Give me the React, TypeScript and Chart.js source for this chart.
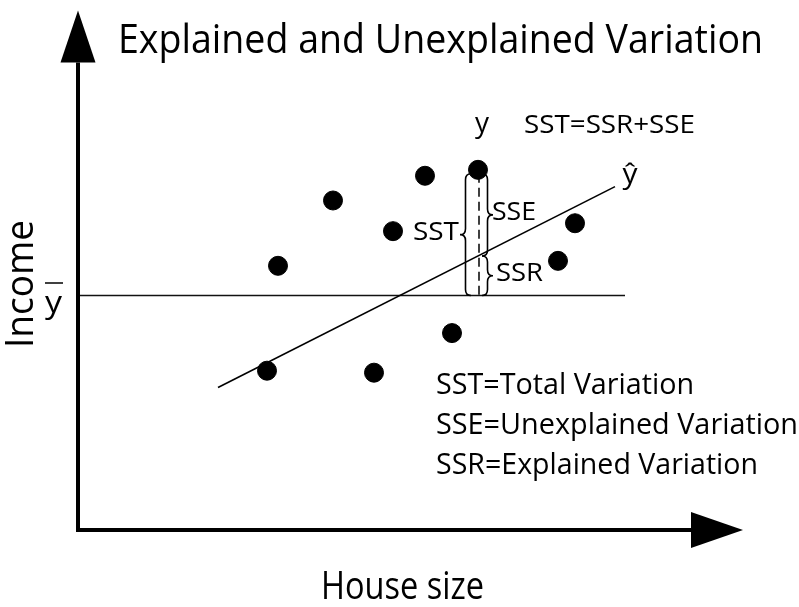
import React, { useEffect, useRef } from "react";
import { Chart, registerables } from "chart.js";

Chart.register(...registerables);

// Data (axis units: house size / income, arbitrary)
const houseSize = [3.78, 4.0, 5.1, 5.92, 6.3, 6.94, 7.48, 8.0, 9.6, 9.94];
const income = [3.22, 5.34, 6.66, 3.18, 6.04, 7.16, 3.98, 7.28, 5.44, 6.2];
const regX = [2.8, 10.74];
const regY = [2.88, 6.94];
const meanY = 4.74;
const meanXEnd = 10.94;
const focusIndex = 7; // the highlighted point y
const X_MAX = 13.3;
const Y_MAX = 10.5;

const titleText = "Explained and Unexplained Variation";
const xTitle = "House size";
const yTitle = "Income";
const legendLines = ["SST=Total Variation", "SSE=Unexplained Variation", "SSR=Explained Variation"];
const formula = "SST=SSR+SSE";

const FONT = "'Open Sans', 'Noto Sans', sans-serif";

function fitText(ctx: CanvasRenderingContext2D, text: string, x: number, y: number, size: number, width: number, align: "left" | "center" = "left") {
  ctx.save();
  ctx.font = `${size}px ${FONT}`;
  ctx.textBaseline = "alphabetic";
  ctx.textAlign = "left";
  const w = ctx.measureText(text).width;
  const s = width / w;
  ctx.translate(align === "center" ? x - width / 2 : x, y);
  ctx.scale(s, 1);
  ctx.fillStyle = "#000";
  ctx.fillText(text, 0, 0);
  ctx.restore();
}

function brace(ctx: CanvasRenderingContext2D, xArm: number, y1: number, y2: number, dir: number, w: number) {
  const ym = (y1 + y2) / 2;
  const xMid = xArm + dir * w * 0.5;
  const xTip = xArm + dir * w;
  const r = Math.min(6, (y2 - y1) / 4);
  ctx.beginPath();
  ctx.moveTo(xArm, y1);
  ctx.quadraticCurveTo(xMid, y1, xMid, y1 + r);
  ctx.lineTo(xMid, ym - r);
  ctx.quadraticCurveTo(xMid, ym, xTip, ym);
  ctx.quadraticCurveTo(xMid, ym, xMid, ym + r);
  ctx.lineTo(xMid, y2 - r);
  ctx.quadraticCurveTo(xMid, y2, xArm, y2);
  ctx.stroke();
}

const decorPlugin = {
  id: "decor",
  afterDraw(chart: any) {
    const ctx: CanvasRenderingContext2D = chart.ctx;
    const xs = chart.scales.x;
    const ys = chart.scales.y;
    const px = (v: number) => xs.getPixelForValue(v);
    const py = (v: number) => ys.getPixelForValue(v);

    // axes with arrows
    const ox = px(0), oy = py(0);
    ctx.save();
    ctx.fillStyle = "#000";
    ctx.strokeStyle = "#000";
    ctx.lineWidth = 4;
    ctx.beginPath();
    ctx.moveTo(ox, py(Y_MAX) + 52);
    ctx.lineTo(ox, oy);
    ctx.lineTo(px(X_MAX) - 52, oy);
    ctx.stroke();
    ctx.beginPath();
    ctx.moveTo(ox, py(Y_MAX));
    ctx.lineTo(ox - 17.5, py(Y_MAX) + 52);
    ctx.lineTo(ox + 17.5, py(Y_MAX) + 52);
    ctx.closePath();
    ctx.fill();
    ctx.beginPath();
    ctx.moveTo(px(X_MAX), oy);
    ctx.lineTo(px(X_MAX) - 52, oy - 18);
    ctx.lineTo(px(X_MAX) - 52, oy + 18);
    ctx.closePath();
    ctx.fill();

    // dashed vertical + braces at the focus point
    const fx = px(houseSize[focusIndex]);
    const fyTop = py(income[focusIndex]) + 4;
    const fyMean = py(meanY);
    const slope = (regY[1] - regY[0]) / (regX[1] - regX[0]);
    const fyReg = py(regY[0] + slope * (houseSize[focusIndex] - regX[0]));
    ctx.lineWidth = 1.5;
    ctx.setLineDash([9, 5]);
    ctx.beginPath();
    ctx.moveTo(fx + 1, fyTop);
    ctx.lineTo(fx + 1, fyMean);
    ctx.stroke();
    ctx.setLineDash([]);
    ctx.lineWidth = 1.6;
    brace(ctx, fx - 7, fyTop, fyMean, -1, 11);
    brace(ctx, fx + 4, fyTop, fyReg, 1, 11);
    brace(ctx, fx + 4, fyReg, fyMean, 1, 11);

    // overline for y-bar
    ctx.lineWidth = 1.5;
    ctx.beginPath();
    ctx.moveTo(45, 283);
    ctx.lineTo(63, 283);
    ctx.stroke();
    ctx.restore();

    // texts
    fitText(ctx, titleText, 118, 53, 40, 645);
    fitText(ctx, xTitle, 321, 599, 38, 163);
    fitText(ctx, "y", 45, 313, 31, 17);
    ctx.save();
    ctx.translate(33, 284);
    ctx.rotate(-Math.PI / 2);
    fitText(ctx, yTitle, 0, 0, 39, 128, "center");
    ctx.restore();

    fitText(ctx, "y", fx + 4, 132, 28, 14, "center");
    fitText(ctx, formula, 524, 133, 26, 171);
    fitText(ctx, "\u0177", 630, 183, 28, 15, "center");
    fitText(ctx, "SST", fx - 65, 240, 26, 46);
    fitText(ctx, "SSE", fx + 14, 220, 26, 44);
    fitText(ctx, "SSR", fx + 18, 281, 26, 47);

    const lw = [258, 362, 322];
    legendLines.forEach((t, i) => fitText(ctx, t, 436, 394 + i * 40, 29, lw[i]));
  },
};

export default function App() {
  const ref = useRef<HTMLCanvasElement | null>(null);
  useEffect(() => {
    if (!ref.current) return;
    const chart = new Chart(ref.current, {
      type: "scatter",
      data: {
        datasets: [
          {
            label: "points",
            data: houseSize.map((x, i) => ({ x, y: income[i] })),
            backgroundColor: "#000",
            borderColor: "#000",
            pointRadius: 9.5,
            pointHoverRadius: 9.5,
            showLine: false,
          },
          {
            label: "regression",
            data: regX.map((x, i) => ({ x, y: regY[i] })),
            showLine: true,
            borderColor: "#000",
            borderWidth: 1.6,
            pointRadius: 0,
          },
          {
            label: "mean",
            data: [{ x: 0, y: meanY }, { x: meanXEnd, y: meanY }],
            showLine: true,
            borderColor: "#111",
            borderWidth: 1.6,
            pointRadius: 0,
          },
        ],
      },
      options: {
        responsive: false,
        animation: false,
        layout: { padding: { left: 78, right: 56, top: 5, bottom: 77 } },
        plugins: { legend: { display: false }, tooltip: { enabled: false }, title: { display: false } },
        scales: {
          x: { type: "linear", min: 0, max: X_MAX, display: false },
          y: { type: "linear", min: 0, max: Y_MAX, display: false },
        },
      },
      plugins: [decorPlugin],
    });
    return () => chart.destroy();
  }, []);
  return (
    <div style={{ position: "absolute", left: 0, top: 0, width: 799, height: 607, background: "#fff" }}>
      <canvas ref={ref} width={799} height={607} style={{ display: "block" }} />
    </div>
  );
}
